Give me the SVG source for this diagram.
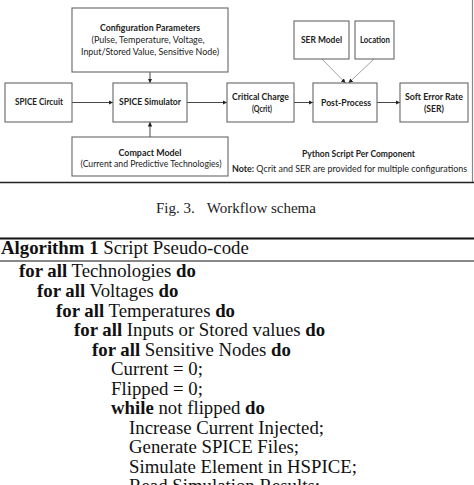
<svg xmlns="http://www.w3.org/2000/svg" width="474" height="485" viewBox="0 0 474 485">
<style>
.box{fill:#fff;stroke:#666;stroke-width:1.1}
.t{font-family:Lato,"Liberation Sans",sans-serif;font-size:9.2px;fill:#222;text-anchor:middle}
.b{font-weight:bold}
.c{stroke:#333;stroke-width:0.9;fill:none}
.g{stroke:#8a8a8a;stroke-width:0.8;fill:none}
.s{font-family:"Liberation Serif","Times New Roman",serif;font-size:18.8px;fill:#111}
.k{font-weight:bold}
</style>
<defs>
<marker id="ah" viewBox="0 0 6 6" refX="6" refY="3" markerWidth="4.5" markerHeight="4.5" orient="auto" markerUnits="userSpaceOnUse">
<path d="M0,0 L6,3 L0,6 Z" fill="#222"/>
</marker>
</defs>
<rect width="474" height="485" fill="#fff"/>
<g id="frame">
<line x1="472.5" y1="0" x2="472.5" y2="182" stroke="#888" stroke-width="1.2"/>
<line x1="0" y1="182.5" x2="474" y2="182.5" stroke="#222" stroke-width="1.5"/>
</g>
<g id="connectors">
<line class="c" x1="150" y1="72" x2="150" y2="83" marker-end="url(#ah)"/>
<line class="c" x1="150" y1="137" x2="150" y2="122" marker-end="url(#ah)"/>
<line class="c" x1="72" y1="102.5" x2="113" y2="102.5" marker-end="url(#ah)"/>
<line class="c" x1="187" y1="102.5" x2="227" y2="102.5" marker-end="url(#ah)"/>
<line class="c" x1="294" y1="102.5" x2="313" y2="102.5" marker-end="url(#ah)"/>
<line class="c" x1="377" y1="102.5" x2="400" y2="102.5" marker-end="url(#ah)"/>
<line class="g" x1="322" y1="59" x2="345.5" y2="83" marker-end="url(#ah)"/>
<line class="g" x1="374" y1="59" x2="348.5" y2="83" marker-end="url(#ah)"/>
</g>
<g id="config">
<rect class="box" x="72" y="8" width="156" height="64"/>
<text class="t b" x="150" y="31" textLength="100" lengthAdjust="spacingAndGlyphs">Configuration Parameters</text>
<text class="t" x="148" y="43" textLength="113" lengthAdjust="spacingAndGlyphs">(Pulse, Temperature, Voltage,</text>
<text class="t" x="150" y="54.5" textLength="138" lengthAdjust="spacingAndGlyphs">Input/Stored Value, Sensitive Node)</text>
</g>
<g id="spice-circuit">
<rect class="box" x="5" y="83" width="67" height="39"/>
<text class="t b" x="39" y="105" textLength="48" lengthAdjust="spacingAndGlyphs">SPICE Circuit</text>
</g>
<g id="spice-simulator">
<rect class="box" x="113" y="83" width="74" height="39"/>
<text class="t b" x="150" y="105" textLength="62" lengthAdjust="spacingAndGlyphs">SPICE Simulator</text>
</g>
<g id="compact-model">
<rect class="box" x="72" y="137" width="156" height="39"/>
<text class="t b" x="150" y="156" textLength="63" lengthAdjust="spacingAndGlyphs">Compact Model</text>
<text class="t" x="151" y="166.5" textLength="141" lengthAdjust="spacingAndGlyphs">(Current and Predictive Technologies)</text>
</g>
<g id="critical-charge">
<rect class="box" x="227" y="83" width="67" height="39"/>
<text class="t b" x="260.5" y="99.5" textLength="57" lengthAdjust="spacingAndGlyphs">Critical Charge</text>
<text class="t b" x="262" y="111.5" textLength="20" lengthAdjust="spacingAndGlyphs">(Qcrit)</text>
</g>
<g id="ser-model">
<rect class="box" x="294" y="21" width="55" height="38"/>
<text class="t b" x="321.5" y="43" textLength="41" lengthAdjust="spacingAndGlyphs">SER Model</text>
</g>
<g id="location">
<rect class="box" x="355" y="21" width="39" height="38"/>
<text class="t b" x="375" y="43" textLength="30" lengthAdjust="spacingAndGlyphs">Location</text>
</g>
<g id="post-process">
<rect class="box" x="313" y="83" width="64" height="39"/>
<text class="t b" x="346" y="105.5" textLength="50" lengthAdjust="spacingAndGlyphs">Post-Process</text>
</g>
<g id="ser">
<rect class="box" x="400" y="83" width="68" height="39"/>
<text class="t b" x="434" y="99.5" textLength="58" lengthAdjust="spacingAndGlyphs">Soft Error Rate</text>
<text class="t b" x="434" y="111.5" textLength="20" lengthAdjust="spacingAndGlyphs">(SER)</text>
</g>
<g id="notes">
<text class="t b" x="358.5" y="157" textLength="113" lengthAdjust="spacingAndGlyphs">Python Script Per Component</text>
<text class="t" x="349.5" y="172" textLength="235" lengthAdjust="spacingAndGlyphs"><tspan class="b">Note:</tspan> Qcrit and SER are provided for multiple configurations</text>
</g>
<g id="caption">
<text font-family="'Liberation Serif','Times New Roman',serif" font-size="15" fill="#222" x="156" y="212.5">Fig. 3.<tspan dx="12">Workflow schema</tspan></text>
</g>
<g id="algorithm">
<line x1="0" y1="238.5" x2="474" y2="238.5" stroke="#111" stroke-width="1.8"/>
<text class="s" x="1" y="254"><tspan class="k">Algorithm 1</tspan> Script Pseudo-code</text>
<line x1="0" y1="261" x2="474" y2="261" stroke="#111" stroke-width="1.2"/>
<text class="s" x="19" y="277"><tspan class="k">for all</tspan> Technologies <tspan class="k">do</tspan></text>
<text class="s" x="37" y="297"><tspan class="k">for all</tspan> Voltages <tspan class="k">do</tspan></text>
<text class="s" x="56" y="316.5"><tspan class="k">for all</tspan> Temperatures <tspan class="k">do</tspan></text>
<text class="s" x="74" y="336"><tspan class="k">for all</tspan> Inputs or Stored values <tspan class="k">do</tspan></text>
<text class="s" x="92" y="355.5"><tspan class="k">for all</tspan> Sensitive Nodes <tspan class="k">do</tspan></text>
<text class="s" x="111" y="375">Current = 0;</text>
<text class="s" x="111" y="394.5">Flipped = 0;</text>
<text class="s" x="111" y="414"><tspan class="k">while</tspan> not flipped <tspan class="k">do</tspan></text>
<text class="s" x="129" y="433.5">Increase Current Injected;</text>
<text class="s" x="129" y="453">Generate SPICE Files;</text>
<text class="s" x="129" y="472.5">Simulate Element in HSPICE;</text>
<text class="s" x="129" y="492">Read Simulation Results;</text>
</g>
</svg>
